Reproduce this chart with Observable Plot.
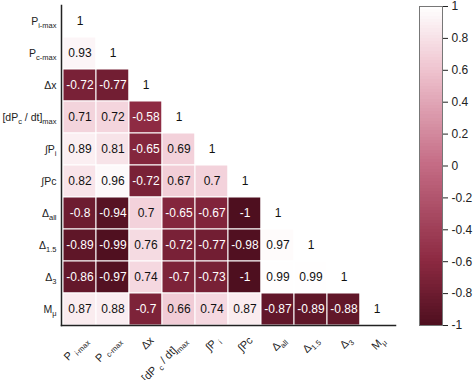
<!DOCTYPE html>
<html><head><meta charset="utf-8">
<script src="https://cdn.jsdelivr.net/npm/d3@7"></script>
<script src="https://cdn.jsdelivr.net/npm/@observablehq/plot@0.6"></script>
<style>
body{margin:0;background:#fff}
#c{position:relative;width:474px;height:380px}
#c svg{position:absolute;left:0;top:0}
</style>
</head><body><div id="c"></div>
<script>
const variables = ["Pimax","Pcmax","dx","dPc","IPi","IPc","Dall","D15","D3","Mu"];
const yLabels = ["P_{i-max}","P_{c-max}","Δx","[dP_{c} / dt]_{max}","∫P_{i}","∫Pc","Δ_{all}","Δ_{1.5}","Δ_{3}","M_{μ}"];
const xLabels = ["P _{i-max}","P _{c-max}","Δx","[dP _{c} / dt]_{max}","∫P _{i}","∫Pc","Δ_{all}","Δ_{1.5}","Δ_{3}","M_{μ}"];
const correlations = [
  [1],
  [0.93, 1],
  [-0.72, -0.77, 1],
  [0.71, 0.72, -0.58, 1],
  [0.89, 0.81, -0.65, 0.69, 1],
  [0.82, 0.96, -0.72, 0.67, 0.7, 1],
  [-0.8, -0.94, 0.7, -0.65, -0.67, -1, 1],
  [-0.89, -0.99, 0.76, -0.72, -0.77, -0.98, 0.97, 1],
  [-0.86, -0.97, 0.74, -0.7, -0.73, -1, 0.99, 0.99, 1],
  [0.87, 0.88, -0.7, 0.66, 0.74, 0.87, -0.87, -0.89, -0.88, 1]
];
const colorTicks = [-1, -0.8, -0.6, -0.4, -0.2, 0, 0.2, 0.4, 0.6, 0.8, 1];

const cells = correlations.flatMap((row, i) => row.map((value, j) => ({row: variables[i], col: variables[j], value})));
const colorScale = {type: "linear", domain: [-1, -0.6, 0, 0.6, 1], range: ["#4e0f1f", "#8c2941", "#c46b84", "#efc3cf", "#ffffff"]};
const font = "'Liberation Sans', Arial, sans-serif";

const main = Plot.plot({
  width: 474, height: 380,
  marginLeft: 61, marginRight: 79, marginTop: 5, marginBottom: 55,
  style: {fontFamily: font, fontSize: "11px", color: "#222", background: "white"},
  x: {domain: variables, padding: 0, label: null},
  y: {domain: variables, padding: 0, label: null},
  color: colorScale,
  marks: [
    Plot.cell(cells, {x: "col", y: "row", fill: "value", stroke: "white", strokeWidth: 1}),
    Plot.text(cells.filter(d => d.value < 0), {x: "col", y: "row", text: d => String(d.value), fill: "white", fontSize: 12}),
    Plot.text(cells.filter(d => d.value >= 0), {x: "col", y: "row", text: d => String(d.value), fill: "#111", fontSize: 12}),
    Plot.axisX({tickSize: 0, tickPadding: 10, tickRotate: -45, dx: 6, dy: 3, label: null}),
    Plot.axisY({tickSize: 0, tickPadding: 5, label: null}),
    Plot.frame({anchor: "left", stroke: "#222", strokeWidth: 1.5}),
    Plot.frame({anchor: "bottom", stroke: "#222", strokeWidth: 1.5})
  ]
});

function subscriptify(svg, selector, labels, size) {
  const map = new Map(variables.map((v, i) => [v, labels[i]]));
  d3.select(svg).selectAll(selector).each(function() {
    const t = d3.select(this);
    const key = t.text();
    if (!map.has(key)) return;
    const parts = map.get(key).split(/(_\{[^}]*\})/).filter(s => s.length);
    t.text(null);
    let shifted = false;
    for (const p of parts) {
      if (p.startsWith("_{")) {
        t.append("tspan").attr("dy", shifted ? null : "3").attr("font-size", "7.5").text(p.slice(2, -1));
        shifted = true;
      } else {
        const s = t.append("tspan").attr("font-size", size).text(p);
        if (shifted) { s.attr("dy", "-3"); shifted = false; }
      }
    }
  });
}
subscriptify(main, 'g[aria-label="x-axis tick label"] text', xLabels, "11");
subscriptify(main, 'g[aria-label="y-axis tick label"] text', yLabels, "10.5");

const steps = d3.range(-1, 1, 0.02);
const bar = Plot.plot({
  width: 474, height: 380,
  marginLeft: 419, marginRight: 32, marginTop: 6, marginBottom: 55,
  style: {fontFamily: font, fontSize: "12px", color: "#222", background: "transparent"},
  x: {domain: [0, 1], axis: null},
  y: {domain: [-1, 1], axis: "right", ticks: colorTicks, tickSize: 5, tickPadding: 4, tickFormat: d => String(d), label: null},
  color: colorScale,
  marks: [
    Plot.rect(steps, {x1: 0, x2: 1, y1: d => d, y2: d => d + 0.025, fill: d => d + 0.01, shapeRendering: "crispEdges"}),
    Plot.frame({stroke: "#777"})
  ]
});
document.getElementById("c").append(main, bar);
</script>
</body></html>
